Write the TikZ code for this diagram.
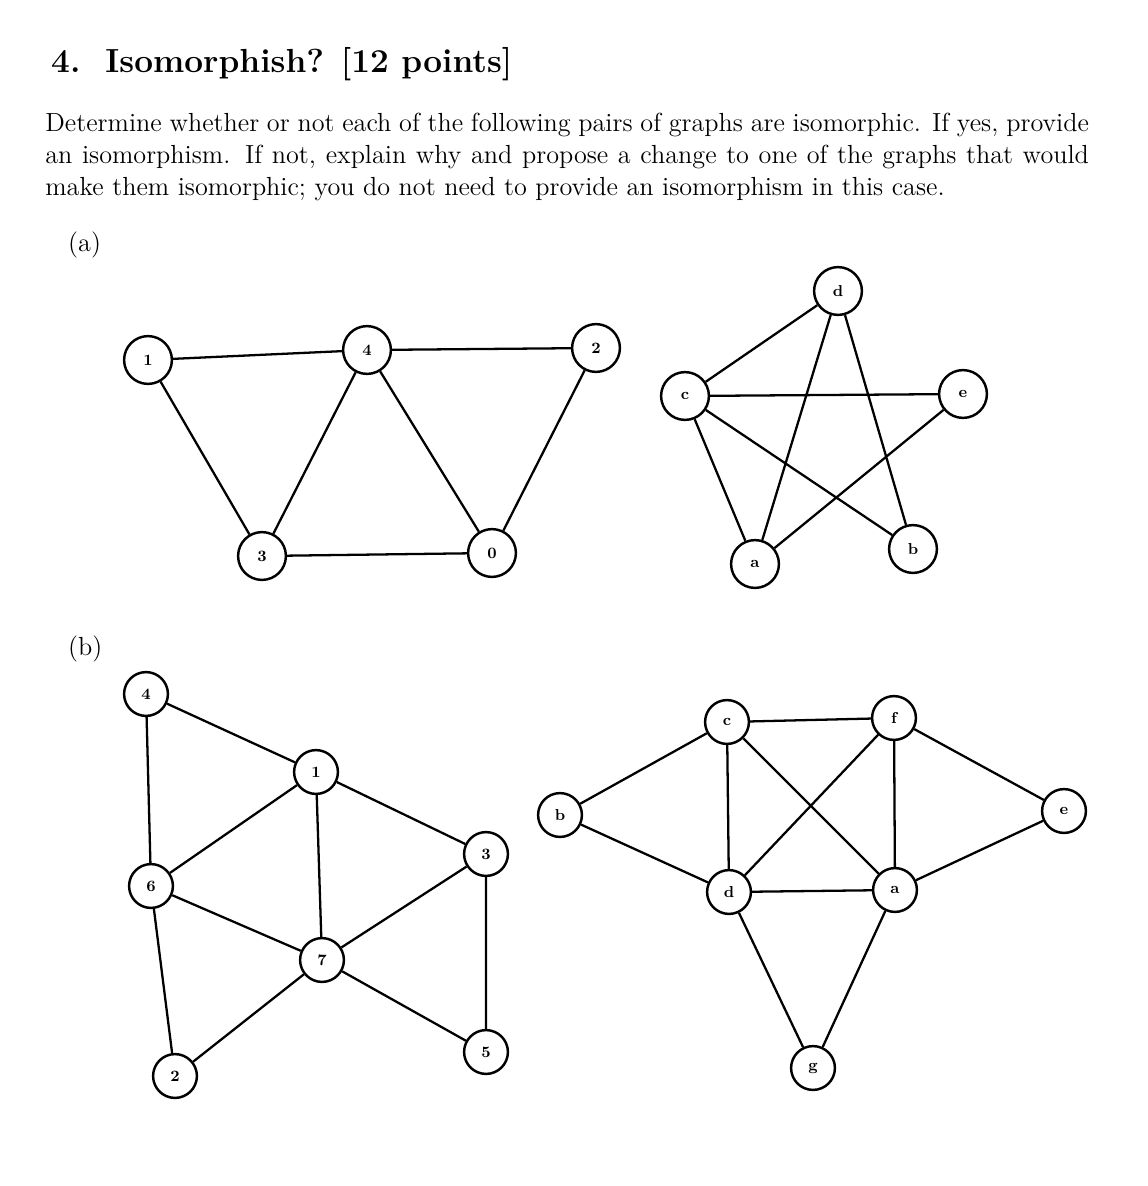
\documentclass[tikz,border=0pt]{standalone}
\begin{document}
\begin{tikzpicture}[x=0.02cm,y=-0.02cm,
 vtx/.style={circle,draw,line width=1.4pt,minimum size=48*0.567pt,inner sep=0pt,font=\fontsize{9}{9}\selectfont\bfseries,fill=white},
 vtxs/.style={vtx,minimum size=44*0.567pt},
 ed/.style={line width=1.3pt}]
\useasboundingbox (0,0) rectangle (1148,1186);
\node[anchor=base west,font=\fontsize{19}{22}\selectfont\bfseries] (h) at (45,72) {4.\ \ Isomorphish? [12 points]};
\node[anchor=north west,inner sep=0pt,text width=594pt,align=justify,font=\fontsize{14.9}{18.2}\selectfont] (t) at (45,113) {Determine whether or not each of the following pairs of graphs are isomorphic. If yes, provide an isomorphism. If not, explain why and propose a change to one of the graphs that would make them isomorphic; you do not need to provide an isomorphism in this case.};
\node[anchor=base west,font=\fontsize{14.9}{18}\selectfont] (la) at (62,251) {(a)};
\node[anchor=base west,font=\fontsize{14.9}{18}\selectfont] (lb) at (62,655) {(b)};
% (a) left
\node[vtx] (a1) at (148,360) {1};
\node[vtx] (a4) at (367,350) {4};
\node[vtx] (a2) at (596,348) {2};
\node[vtx] (a3) at (262,556) {3};
\node[vtx] (a0) at (492,553) {0};
\draw[ed] (a1)--(a4) (a4)--(a2) (a1)--(a3) (a3)--(a4) (a4)--(a0) (a3)--(a0) (a0)--(a2);
% (a) right
\node[vtx] (rd) at (838,291) {d};
\node[vtx] (rc) at (685,396) {c};
\node[vtx] (re) at (963,394) {e};
\node[vtx] (ra) at (755,564) {a};
\node[vtx] (rb) at (913,549) {b};
\draw[ed] (rc)--(rd) (rc)--(re) (rc)--(ra) (rc)--(rb) (rd)--(ra) (rd)--(rb) (ra)--(re);
% (b) left
\node[vtxs] (b4) at (146,694) {4};
\node[vtxs] (b1) at (316,772) {1};
\node[vtxs] (b3) at (486,854) {3};
\node[vtxs] (b6) at (151,886) {6};
\node[vtxs] (b7) at (322,960) {7};
\node[vtxs] (b5) at (486,1052) {5};
\node[vtxs] (b2) at (175,1076) {2};
\draw[ed] (b4)--(b1) (b4)--(b6) (b1)--(b3) (b1)--(b6) (b1)--(b7) (b6)--(b7) (b6)--(b2) (b7)--(b3) (b7)--(b5) (b3)--(b5) (b7)--(b2);
% (b) right
\node[vtxs] (sc) at (727,722) {c};
\node[vtxs] (sf) at (894,718) {f};
\node[vtxs] (sb) at (560,815) {b};
\node[vtxs] (se) at (1064,811) {e};
\node[vtxs] (sd) at (729,892) {d};
\node[vtxs] (sa) at (895,890) {a};
\node[vtxs] (sg) at (813,1068) {g};
\draw[ed] (sc)--(sf) (sc)--(sb) (sb)--(sd) (sc)--(sd) (sc)--(sa) (sf)--(sd) (sf)--(sa) (sf)--(se) (se)--(sa) (sd)--(sa) (sd)--(sg) (sa)--(sg);
\end{tikzpicture}
\end{document}
